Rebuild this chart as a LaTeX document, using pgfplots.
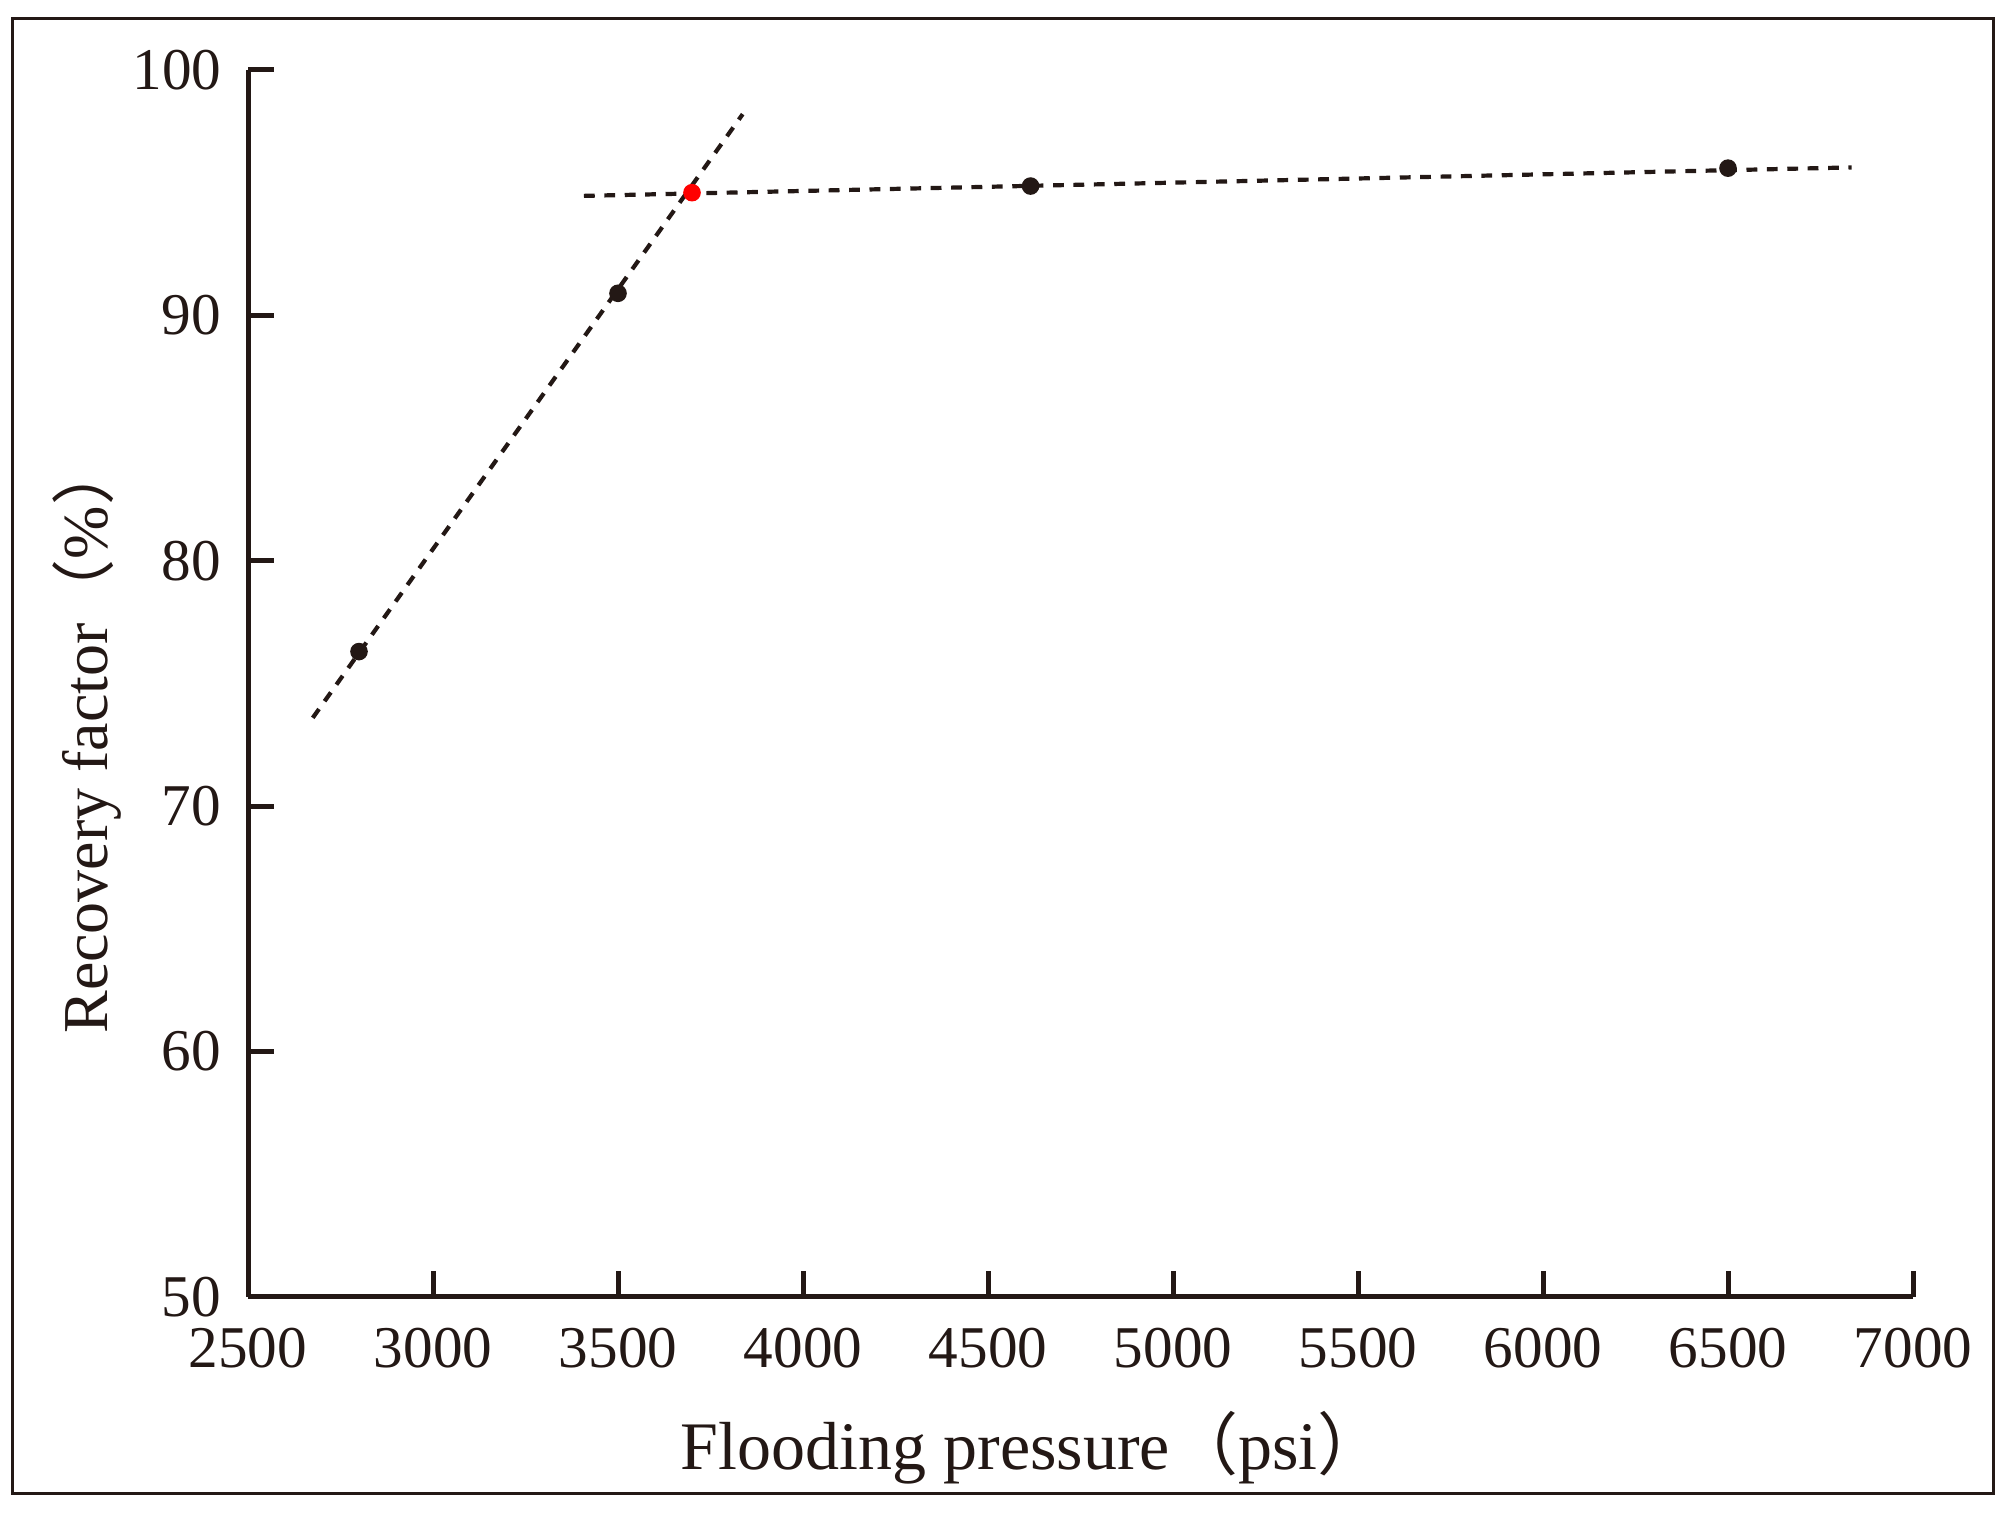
\documentclass[border=0pt]{standalone}
\usepackage{fontspec}
\setmainfont{Liberation Serif}
\newfontfamily\cjk{Noto Sans CJK SC}
\usepackage{pgfplots}
\pgfplotsset{compat=1.18}
\definecolor{ink}{HTML}{231815}
\begin{document}
\begin{tikzpicture}
\useasboundingbox (-62pt,-54.75pt) rectangle (440pt,324.25pt);
\draw[ink, line width=0.75pt] (-58.75pt,-49pt) rectangle (436.25pt,319.5pt);
\begin{axis}[
  at={(0pt,0pt)}, anchor=south west,
  scale only axis, width=416.25pt, height=306.75pt,
  xmin=2500, xmax=7000, ymin=50, ymax=100,
  axis lines=left, axis line style={-, line width=1.25pt, ink},
  xtick={2500,3000,...,7000}, ytick={50,60,...,100},
  tick align=inside, major tick length=6.5pt,
  tick style={line width=1.25pt, ink},
  minor tick num=0,
  /pgf/number format/.cd, 1000 sep={}, assume math mode=true, /pgfplots/.cd,
  tick label style={font=\fontsize{14.8}{17}\selectfont, text=ink, inner sep=0pt},
  xticklabel shift=7.5pt, yticklabel shift=6.5pt,
  xlabel={Flooding pressure{\cjk （}psi{\cjk ）}},
  ylabel={Recovery factor{\cjk （}\%{\cjk ）}},
  xlabel style={font=\fontsize{17}{20}\selectfont, text=ink, inner sep=0pt,
    at={(axis description cs:0.2595,-0.1402)}, anchor=base west},
  ylabel style={font=\fontsize{16}{19}\selectfont, text=ink, inner sep=0pt,
    at={(axis description cs:-0.0841,0.214)}, anchor=base west},
  clip=false,
]
\addplot[ink, line width=1.05pt, dash pattern=on 2.7pt off 2.4pt] coordinates {(2675,73.6) (3837,98.2)};
\addplot[ink, line width=1.05pt, dash pattern=on 2.7pt off 2.4pt] coordinates {(3408,94.87) (6834,96.03)};
\addplot[only marks, mark=*, mark size=2pt, draw=ink, fill=ink] coordinates {(2800,76.3) (3500,90.9) (4615,95.27) (6500,96.0)};
\addplot[only marks, mark=*, mark size=2pt, draw=red, fill=red] coordinates {(3700,95.0)};
\end{axis}
\end{tikzpicture}
\end{document}
